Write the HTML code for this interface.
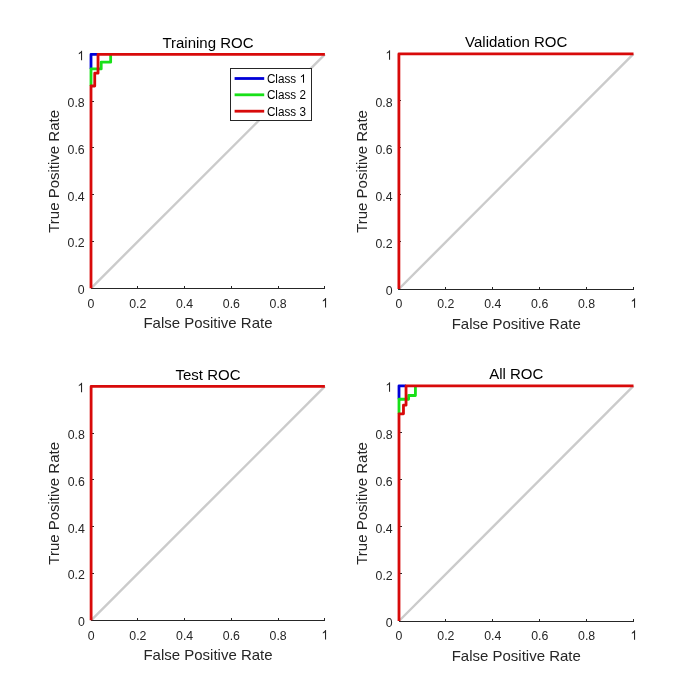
<!DOCTYPE html>
<html><head><meta charset="utf-8"><title>ROC</title>
<style>
html,body{margin:0;padding:0;background:#fff;}
body{width:700px;height:700px;overflow:hidden;}
svg{display:block;will-change:transform;font-family:"Liberation Sans",sans-serif;}
</style></head><body>
<svg width="700" height="700" viewBox="0 0 700 700">
<rect x="0" y="0" width="700" height="700" fill="#fff"/>
<g>
<line x1="91" y1="288.3" x2="324.9" y2="54.45" stroke="#cbcbcb" stroke-width="2.4"/>
<path d="M91.5 54.5V288.5H325" fill="none" stroke="#262626" stroke-width="1"/>
<path d="M91.5 288.5v-2.5M91.5 288.5h2.5M137.5 288.5v-2.5M91.5 241.5h2.5M184.5 288.5v-2.5M91.5 194.5h2.5M231.5 288.5v-2.5M91.5 147.5h2.5M278.5 288.5v-2.5M91.5 101.5h2.5M324.5 288.5v-2.5M91.5 54.5h2.5" stroke="#262626" stroke-width="1"/>
<path d="M91 68.95 L91 54.45 L98.02 54.45" fill="none" stroke="#0000d8" stroke-width="2.8" stroke-linejoin="round"/>
<path d="M91 86.02 L91 68.95 L101.2 68.95 L101.2 62.17 L110.65 62.17 L110.65 54.45" fill="none" stroke="#18e018" stroke-width="2.8" stroke-linejoin="round"/>
<path d="M91 288.3 L91 86.02 L94.74 86.02 L94.74 73.16 L98.02 73.16 L98.02 54.45 L324.9 54.45" fill="none" stroke="#d80a0a" stroke-width="2.8" stroke-linejoin="round"/>
<g fill="#262626" font-size="13">
<text transform="translate(91 307.6) scale(0.95 1.02)" text-anchor="middle">0</text><text transform="translate(137.78 307.6) scale(0.95 1.02)" text-anchor="middle">0.2</text><text transform="translate(184.56 307.6) scale(0.95 1.02)" text-anchor="middle">0.4</text><text transform="translate(231.34 307.6) scale(0.95 1.02)" text-anchor="middle">0.6</text><text transform="translate(278.12 307.6) scale(0.95 1.02)" text-anchor="middle">0.8</text><path transform="translate(321.48 307.6) scale(0.00603 -0.00647)" d="M763 0L583 0L583 1147Q518 1085 412 1023Q306 961 222 930L222 1104Q373 1175 486 1276Q599 1377 646 1472L763 1472Z" fill="#262626"/>
<text transform="translate(84.7 294.1) scale(0.95 1.02)" text-anchor="end">0</text><text transform="translate(84.7 247.33) scale(0.95 1.02)" text-anchor="end">0.2</text><text transform="translate(84.7 200.56) scale(0.95 1.02)" text-anchor="end">0.4</text><text transform="translate(84.7 153.79) scale(0.95 1.02)" text-anchor="end">0.6</text><text transform="translate(84.7 107.02) scale(0.95 1.02)" text-anchor="end">0.8</text><path transform="translate(77.48 60.25) scale(0.00603 -0.00647)" d="M763 0L583 0L583 1147Q518 1085 412 1023Q306 961 222 930L222 1104Q373 1175 486 1276Q599 1377 646 1472L763 1472Z" fill="#262626"/>
</g>
<text transform="translate(207.95 327.6) scale(1 1.01)" text-anchor="middle" font-size="15" fill="#262626">False Positive Rate</text>
<text transform="translate(58.6 171.38) rotate(-90) scale(1 1.01)" text-anchor="middle" font-size="15" fill="#262626">True Positive Rate</text>
<text transform="translate(207.95 47.9) scale(1 1.02)" text-anchor="middle" font-size="15" fill="#000000">Training ROC</text>
</g>
<g>
<line x1="398.9" y1="289" x2="633.5" y2="53.9" stroke="#cbcbcb" stroke-width="2.4"/>
<path d="M398.5 53.5V289.5H634" fill="none" stroke="#262626" stroke-width="1"/>
<path d="M398.5 289.5v-2.5M398.5 289.5h2.5M445.5 289.5v-2.5M398.5 241.5h2.5M492.5 289.5v-2.5M398.5 194.5h2.5M539.5 289.5v-2.5M398.5 147.5h2.5M586.5 289.5v-2.5M398.5 100.5h2.5M633.5 289.5v-2.5M398.5 53.5h2.5" stroke="#262626" stroke-width="1"/>
<path d="M398.9 289 L398.9 53.9 L633.5 53.9" fill="none" stroke="#d80a0a" stroke-width="2.8" stroke-linejoin="round"/>
<g fill="#262626" font-size="13">
<text transform="translate(398.9 307.8) scale(0.95 1.02)" text-anchor="middle">0</text><text transform="translate(445.82 307.8) scale(0.95 1.02)" text-anchor="middle">0.2</text><text transform="translate(492.74 307.8) scale(0.95 1.02)" text-anchor="middle">0.4</text><text transform="translate(539.66 307.8) scale(0.95 1.02)" text-anchor="middle">0.6</text><text transform="translate(586.58 307.8) scale(0.95 1.02)" text-anchor="middle">0.8</text><path transform="translate(630.48 307.8) scale(0.00603 -0.00647)" d="M763 0L583 0L583 1147Q518 1085 412 1023Q306 961 222 930L222 1104Q373 1175 486 1276Q599 1377 646 1472L763 1472Z" fill="#262626"/>
<text transform="translate(392.6 294.8) scale(0.95 1.02)" text-anchor="end">0</text><text transform="translate(392.6 247.78) scale(0.95 1.02)" text-anchor="end">0.2</text><text transform="translate(392.6 200.76) scale(0.95 1.02)" text-anchor="end">0.4</text><text transform="translate(392.6 153.74) scale(0.95 1.02)" text-anchor="end">0.6</text><text transform="translate(392.6 106.72) scale(0.95 1.02)" text-anchor="end">0.8</text><path transform="translate(385.48 59.7) scale(0.00603 -0.00647)" d="M763 0L583 0L583 1147Q518 1085 412 1023Q306 961 222 930L222 1104Q373 1175 486 1276Q599 1377 646 1472L763 1472Z" fill="#262626"/>
</g>
<text transform="translate(516.2 328.9) scale(1 1.01)" text-anchor="middle" font-size="15" fill="#262626">False Positive Rate</text>
<text transform="translate(367.3 171.45) rotate(-90) scale(1 1.01)" text-anchor="middle" font-size="15" fill="#262626">True Positive Rate</text>
<text transform="translate(516.2 46.8) scale(1 1.02)" text-anchor="middle" font-size="15" fill="#000000">Validation ROC</text>
</g>
<g>
<line x1="91.1" y1="620.3" x2="324.9" y2="386.4" stroke="#cbcbcb" stroke-width="2.4"/>
<path d="M91.5 386.5V620.5H325" fill="none" stroke="#262626" stroke-width="1"/>
<path d="M91.5 620.5v-2.5M91.5 620.5h2.5M137.5 620.5v-2.5M91.5 573.5h2.5M184.5 620.5v-2.5M91.5 526.5h2.5M231.5 620.5v-2.5M91.5 479.5h2.5M278.5 620.5v-2.5M91.5 433.5h2.5M324.5 620.5v-2.5M91.5 386.5h2.5" stroke="#262626" stroke-width="1"/>
<path d="M91.1 620.3 L91.1 386.4 L324.9 386.4" fill="none" stroke="#d80a0a" stroke-width="2.8" stroke-linejoin="round"/>
<g fill="#262626" font-size="13">
<text transform="translate(91.1 639.6) scale(0.95 1.02)" text-anchor="middle">0</text><text transform="translate(137.86 639.6) scale(0.95 1.02)" text-anchor="middle">0.2</text><text transform="translate(184.62 639.6) scale(0.95 1.02)" text-anchor="middle">0.4</text><text transform="translate(231.38 639.6) scale(0.95 1.02)" text-anchor="middle">0.6</text><text transform="translate(278.14 639.6) scale(0.95 1.02)" text-anchor="middle">0.8</text><path transform="translate(321.48 639.6) scale(0.00603 -0.00647)" d="M763 0L583 0L583 1147Q518 1085 412 1023Q306 961 222 930L222 1104Q373 1175 486 1276Q599 1377 646 1472L763 1472Z" fill="#262626"/>
<text transform="translate(84.8 626.1) scale(0.95 1.02)" text-anchor="end">0</text><text transform="translate(84.8 579.32) scale(0.95 1.02)" text-anchor="end">0.2</text><text transform="translate(84.8 532.54) scale(0.95 1.02)" text-anchor="end">0.4</text><text transform="translate(84.8 485.76) scale(0.95 1.02)" text-anchor="end">0.6</text><text transform="translate(84.8 438.98) scale(0.95 1.02)" text-anchor="end">0.8</text><path transform="translate(77.48 392.2) scale(0.00603 -0.00647)" d="M763 0L583 0L583 1147Q518 1085 412 1023Q306 961 222 930L222 1104Q373 1175 486 1276Q599 1377 646 1472L763 1472Z" fill="#262626"/>
</g>
<text transform="translate(208 659.8) scale(1 1.01)" text-anchor="middle" font-size="15" fill="#262626">False Positive Rate</text>
<text transform="translate(58.6 503.35) rotate(-90) scale(1 1.01)" text-anchor="middle" font-size="15" fill="#262626">True Positive Rate</text>
<text transform="translate(208 379.8) scale(1 1.02)" text-anchor="middle" font-size="15" fill="#000000">Test ROC</text>
</g>
<g>
<line x1="399" y1="621" x2="633.5" y2="385.85" stroke="#cbcbcb" stroke-width="2.4"/>
<path d="M399.5 385.5V621.5H634" fill="none" stroke="#262626" stroke-width="1"/>
<path d="M399.5 621.5v-2.5M399.5 621.5h2.5M445.5 621.5v-2.5M399.5 573.5h2.5M492.5 621.5v-2.5M399.5 526.5h2.5M539.5 621.5v-2.5M399.5 479.5h2.5M586.5 621.5v-2.5M399.5 432.5h2.5M633.5 621.5v-2.5M399.5 385.5h2.5" stroke="#262626" stroke-width="1"/>
<path d="M399 399.25 L399 385.85 L406.04 385.85" fill="none" stroke="#0000d8" stroke-width="2.8" stroke-linejoin="round"/>
<path d="M399 413.83 L399 399.25 L408.61 399.25 L408.61 395.49 L415.42 395.49 L415.42 385.85" fill="none" stroke="#18e018" stroke-width="2.8" stroke-linejoin="round"/>
<path d="M399 621 L399 413.83 L403.46 413.83 L403.46 405.13 L406.04 405.13 L406.04 385.85 L633.5 385.85" fill="none" stroke="#d80a0a" stroke-width="2.8" stroke-linejoin="round"/>
<g fill="#262626" font-size="13">
<text transform="translate(399 639.8) scale(0.95 1.02)" text-anchor="middle">0</text><text transform="translate(445.9 639.8) scale(0.95 1.02)" text-anchor="middle">0.2</text><text transform="translate(492.8 639.8) scale(0.95 1.02)" text-anchor="middle">0.4</text><text transform="translate(539.7 639.8) scale(0.95 1.02)" text-anchor="middle">0.6</text><text transform="translate(586.6 639.8) scale(0.95 1.02)" text-anchor="middle">0.8</text><path transform="translate(630.48 639.8) scale(0.00603 -0.00647)" d="M763 0L583 0L583 1147Q518 1085 412 1023Q306 961 222 930L222 1104Q373 1175 486 1276Q599 1377 646 1472L763 1472Z" fill="#262626"/>
<text transform="translate(392.7 626.8) scale(0.95 1.02)" text-anchor="end">0</text><text transform="translate(392.7 579.77) scale(0.95 1.02)" text-anchor="end">0.2</text><text transform="translate(392.7 532.74) scale(0.95 1.02)" text-anchor="end">0.4</text><text transform="translate(392.7 485.71) scale(0.95 1.02)" text-anchor="end">0.6</text><text transform="translate(392.7 438.68) scale(0.95 1.02)" text-anchor="end">0.8</text><path transform="translate(385.48 391.65) scale(0.00603 -0.00647)" d="M763 0L583 0L583 1147Q518 1085 412 1023Q306 961 222 930L222 1104Q373 1175 486 1276Q599 1377 646 1472L763 1472Z" fill="#262626"/>
</g>
<text transform="translate(516.25 660.9) scale(1 1.01)" text-anchor="middle" font-size="15" fill="#262626">False Positive Rate</text>
<text transform="translate(367.3 503.43) rotate(-90) scale(1 1.01)" text-anchor="middle" font-size="15" fill="#262626">True Positive Rate</text>
<text transform="translate(516.25 378.8) scale(1 1.02)" text-anchor="middle" font-size="15" fill="#000000">All ROC</text>
</g>
<g>
<rect x="230.5" y="68.5" width="81" height="52" fill="#fff" stroke="#262626" stroke-width="1"/>
<line x1="234.6" y1="78.5" x2="264.2" y2="78.5" stroke="#0000d8" stroke-width="2.8"/>
<text transform="translate(266.9 82.8) scale(0.975 1)" font-size="12.0" fill="#000">Class </text><path transform="translate(299.67 82.8) scale(0.00571 -0.00586)" d="M763 0L583 0L583 1147Q518 1085 412 1023Q306 961 222 930L222 1104Q373 1175 486 1276Q599 1377 646 1472L763 1472Z" fill="#000"/>
<line x1="234.6" y1="94.8" x2="264.2" y2="94.8" stroke="#18e018" stroke-width="2.8"/>
<text transform="translate(266.9 99.1) scale(0.975 1)" font-size="12.0" fill="#000">Class 2</text>
<line x1="234.6" y1="111.2" x2="264.2" y2="111.2" stroke="#d80a0a" stroke-width="2.8"/>
<text transform="translate(266.9 115.5) scale(0.975 1)" font-size="12.0" fill="#000">Class 3</text>
</g>
</svg>
</body></html>
